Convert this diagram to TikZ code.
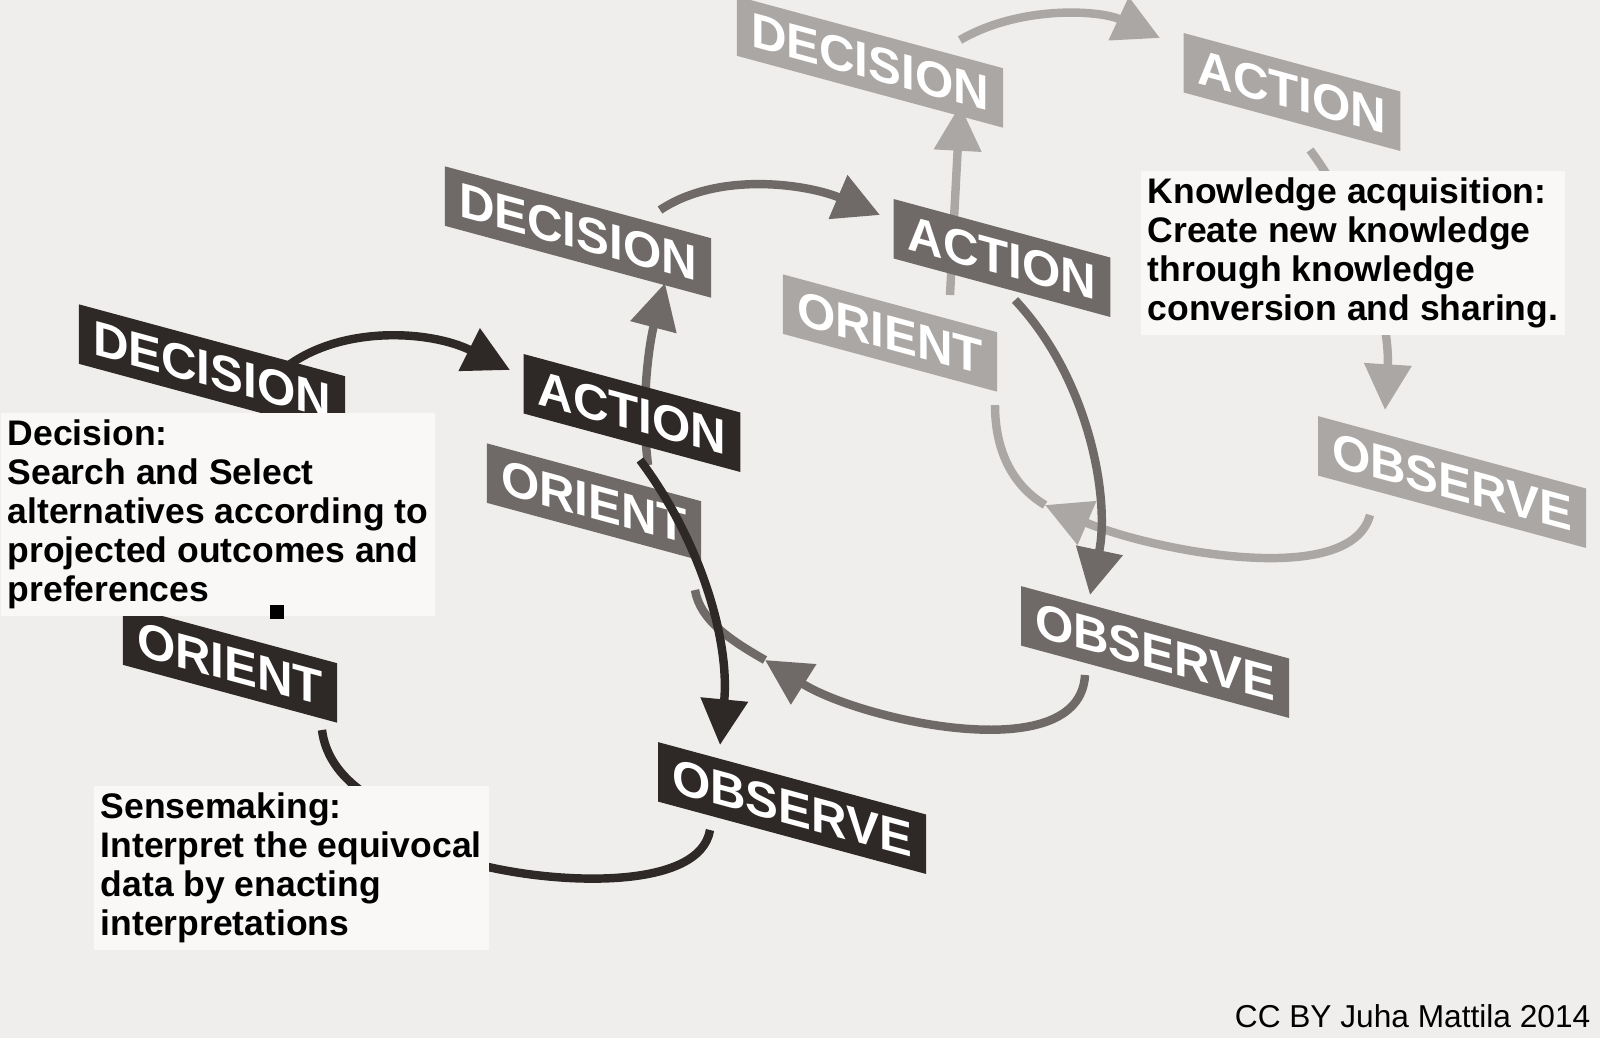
\documentclass[tikz,border=0pt]{standalone}
\usepackage{fontspec}
\setmainfont{Liberation Sans}
\usetikzlibrary{arrows.meta}
\definecolor{bg}{HTML}{F0EEEC}
\definecolor{cA}{HTML}{2E2826}
\definecolor{cB}{HTML}{6F6A68}
\definecolor{cC}{HTML}{ABA7A5}
\begin{document}
\begin{tikzpicture}[x=0.01cm,y=0.01cm,
  lab/.style={fill=#1,text=white,font=\fontsize{14}{16}\selectfont\bfseries,yslant=-0.27,transform shape,inner xsep=4pt,inner ysep=3.5pt,anchor=center},
  arr/.style={draw=#1,line width=2.4pt,-{Triangle[length=13pt,width=13pt]}},
  ln/.style={draw=#1,line width=2.4pt},
  txt/.style={fill=bg!40!white,font=\fontsize{10.1}{11.1}\selectfont\bfseries,align=left,anchor=north west,inner sep=2pt}]
\fill[bg] (0,0) rectangle (1600,-1038);
\useasboundingbox (0,0) rectangle (1600,-1038);
% ---- light cycle
\node[lab=cC] (d3) at (870,-62) {DECISION};
\node[lab=cC] (a3) at (1292,-92) {ACTION};
\node[lab=cC] (o3) at (890,-333) {ORIENT};
\node[lab=cC] (b3) at (1452,-482) {OBSERVE};
\draw[arr=cC] (960,-40) .. controls (1020,-5) and (1100,-10) .. (1160,-38);
\draw[arr=cC] (1310,-150) .. controls (1370,-230) and (1390,-330) .. (1385,-410);
\draw[arr=cC] (1370,-515) .. controls (1350,-590) and (1150,-550) .. (1045,-505);
\draw[ln=cC] (1045,-505) .. controls (1020,-490) and (995,-460) .. (995,-405);
\draw[arr=cC] (950,-295) -- (960,-105);
% ---- medium cycle
\node[lab=cB] (d2) at (578,-232) {DECISION};
\node[lab=cB] (a2) at (1002,-258) {ACTION};
\node[lab=cB] (o2) at (594,-502) {ORIENT};
\node[lab=cB] (b2) at (1155,-652) {OBSERVE};
\draw[arr=cB] (660,-210) .. controls (720,-170) and (810,-185) .. (880,-215);
\draw[arr=cB] (1015,-300) .. controls (1090,-380) and (1110,-500) .. (1090,-595);
\draw[arr=cB] (1085,-675) .. controls (1080,-770) and (860,-720) .. (765,-660);
\draw[ln=cB] (765,-660) .. controls (730,-640) and (700,-620) .. (695,-590);
\draw[arr=cB] (648,-465) .. controls (640,-400) and (650,-340) .. (665,-283);
% ---- dark cycle
\node[lab=cA] (d1) at (212,-370) {DECISION};
\node[lab=cA] (a1) at (632,-413) {ACTION};
\node[lab=cA] (o1) at (230,-664) {ORIENT};
\node[lab=cA] (b1) at (792,-808) {OBSERVE};
\draw[arr=cA] (285,-368) .. controls (340,-325) and (430,-330) .. (510,-370);
\draw[arr=cA] (640,-460) .. controls (700,-540) and (730,-640) .. (720,-745);
\draw[ln=cA] (710,-830) .. controls (700,-890) and (560,-885) .. (480,-865);
\draw[ln=cA] (360,-790) .. controls (340,-775) and (325,-755) .. (322,-730);
% ---- text boxes
\node[txt] (t1) at (0,-412) {Decision:\\Search and Select\\alternatives according to\\projected outcomes and\\preferences};
\fill[black] (270,-605) rectangle (284,-619);
\node[txt] (t2) at (93,-785) {Sensemaking:\\Interpret the equivocal\\data by enacting\\interpretations};
\node[txt] (t3) at (1140,-170) {Knowledge acquisition:\\Create new knowledge\\through knowledge\\conversion and sharing.};
\node[font=\fontsize{9}{10}\selectfont,anchor=south east,inner sep=2pt] (cc) at (1598,-1036) {CC BY Juha Mattila 2014};
\end{tikzpicture}
\end{document}
